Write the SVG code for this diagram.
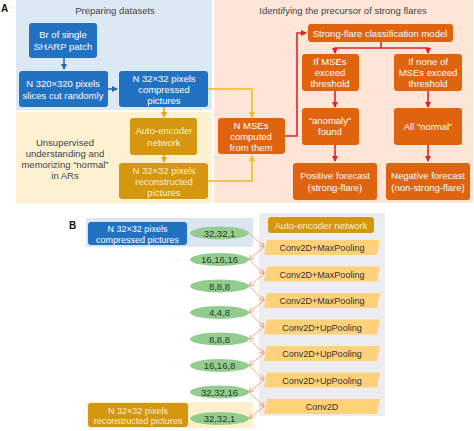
<svg xmlns="http://www.w3.org/2000/svg" width="474" height="431" viewBox="0 0 474 431">
<style>
text{font-family:"Liberation Sans",Arial,sans-serif;}
.t{font-size:9.5px;fill:#fff;text-anchor:middle;}
.ty{font-size:9.5px;fill:#fbf0d0;text-anchor:middle;}
.tb{font-size:9px;fill:#fff;text-anchor:middle;}
.tyb{font-size:9px;fill:#fbf0d0;text-anchor:middle;}
.h{font-size:9.5px;fill:#444;text-anchor:middle;}
.blue{fill:#2272c4;}
.gold{fill:#d4970f;}
.org{fill:#e0640f;}
.lay{fill:#fdd27a;}
.lt{font-size:9px;fill:#333;text-anchor:middle;}
.ell{fill:#93cd8e;}
.et{font-size:9.5px;fill:#2a3a2a;text-anchor:middle;}
.yl{fill:none;stroke:#f5b820;stroke-width:1.6;}
.rl{fill:none;stroke:#e52228;stroke-width:1.6;}
.bl{fill:none;stroke:#2a66b0;stroke-width:1.6;}
.gl{fill:none;stroke:#e7a80c;stroke-width:1.6;}
.ol{fill:none;stroke:#f0a070;stroke-width:0.9;}
.lbl{font-size:10px;font-weight:bold;fill:#111;}
</style>
<defs>
<marker id="ab" markerWidth="6" markerHeight="6" refX="5" refY="3" orient="auto" markerUnits="userSpaceOnUse"><path d="M0,0L6,3L0,6z" fill="#2a66b0"/></marker>
<marker id="ay" markerWidth="6" markerHeight="6" refX="5" refY="3" orient="auto" markerUnits="userSpaceOnUse"><path d="M0,0L6,3L0,6z" fill="#f5b820"/></marker>
<marker id="ag" markerWidth="6" markerHeight="6" refX="5" refY="3" orient="auto" markerUnits="userSpaceOnUse"><path d="M0,0L6,3L0,6z" fill="#e7a80c"/></marker>
<marker id="ar" markerWidth="6" markerHeight="6" refX="5" refY="3" orient="auto" markerUnits="userSpaceOnUse"><path d="M0,0L6,3L0,6z" fill="#e52228"/></marker>
<marker id="ao" markerWidth="5" markerHeight="5" refX="4.5" refY="2.5" orient="auto" markerUnits="userSpaceOnUse"><path d="M0,0L5,2.5L0,5" fill="none" stroke="#f0a070" stroke-width="0.9"/></marker>
</defs>

<!-- backgrounds -->
<g id="backgrounds">
<rect x="16" y="0" width="196" height="110" fill="#dde8f5"/>
<rect x="16" y="112" width="196" height="91" fill="#fdf1d2"/>
<rect x="214" y="0" width="259" height="203" fill="#fde6d8"/>
<rect x="86" y="218" width="167" height="29" fill="#dce6f2"/>
<rect x="87" y="402" width="166" height="26" fill="#fdf0cc"/>
<rect x="259" y="213" width="126" height="203" fill="#ededf1"/>
</g>

<g id="labels">
<text class="lbl" x="1" y="12">A</text>
<text class="lbl" x="69" y="229">B</text>
<text class="h" x="115" y="14">Preparing datasets</text>
<text class="h" x="343" y="14">Identifying the precursor of strong flares</text>
<text class="h" x="65" y="146">Unsupervised</text>
<text class="h" x="65" y="157">understanding and</text>
<text class="h" x="65" y="168">memorizing “normal”</text>
<text class="h" x="65" y="179">in ARs</text>
</g>

<g id="connectors">
<path class="bl" d="M64,58V69" marker-end="url(#ab)"/>
<path class="bl" d="M108,89H117" marker-end="url(#ab)"/>
<path class="gl" d="M164,107V117" marker-end="url(#ag)"/>
<path class="gl" d="M164,155V162" marker-end="url(#ag)"/>
<path class="yl" d="M208,89H252V117" marker-end="url(#ay)"/>
<path class="yl" d="M208,181H252V156" marker-end="url(#ay)"/>
<path class="rl" d="M285,136H297V33H306" marker-end="url(#ar)"/>
<path class="rl" d="M381,42V48H335V53"/>
<path class="rl" d="M335,48V53" marker-end="url(#ar)"/>
<path class="rl" d="M381,48H428V53" marker-end="url(#ar)"/>
<path class="rl" d="M335,91V107" marker-end="url(#ar)"/>
<path class="rl" d="M428,91V107" marker-end="url(#ar)"/>
<path class="rl" d="M335,145V161" marker-end="url(#ar)"/>
<path class="rl" d="M428,145V161" marker-end="url(#ar)"/>
<!-- panel B zig-zag -->
<path class="ol" d="M249,233L264,247" marker-end="url(#ao)"/>
<path class="ol" d="M264,247L249,259.5" marker-end="url(#ao)"/>
<path class="ol" d="M249,259.5L264,274" marker-end="url(#ao)"/>
<path class="ol" d="M264,274L249,286" marker-end="url(#ao)"/>
<path class="ol" d="M249,286L264,300.5" marker-end="url(#ao)"/>
<path class="ol" d="M264,300.5L249,312.5" marker-end="url(#ao)"/>
<path class="ol" d="M249,312.5L264,327" marker-end="url(#ao)"/>
<path class="ol" d="M264,327L249,339" marker-end="url(#ao)"/>
<path class="ol" d="M249,339L264,353.5" marker-end="url(#ao)"/>
<path class="ol" d="M264,353.5L249,365.5" marker-end="url(#ao)"/>
<path class="ol" d="M249,365.5L264,380" marker-end="url(#ao)"/>
<path class="ol" d="M264,380L249,392" marker-end="url(#ao)"/>
<path class="ol" d="M249,392L264,406.5" marker-end="url(#ao)"/>
<path class="ol" d="M264,406.5L249,418.5" marker-end="url(#ao)"/>
</g>

<g id="n-br"><rect class="blue" x="29" y="23" width="68" height="35" rx="3"/><text class="t" x="63" y="38">Br of single</text><text class="t" x="63" y="50">SHARP patch</text></g>
<g id="n-slices"><rect class="blue" x="19" y="71" width="89" height="36" rx="3"/><text class="t" x="63" y="87">N 320×320 pixels</text><text class="t" x="63" y="99">slices cut randomly</text></g>
<g id="n-compressed"><rect class="blue" x="119" y="71" width="89" height="36" rx="3"/><text class="t" x="164" y="82">N 32×32 pixels</text><text class="t" x="164" y="93">compressed</text><text class="t" x="164" y="104">pictures</text></g>
<g id="n-ae"><rect class="gold" x="130" y="118" width="67" height="37" rx="3"/><text class="ty" x="164" y="134">Auto-encoder</text><text class="ty" x="164" y="146">network</text></g>
<g id="n-reconstructed"><rect class="gold" x="119" y="163" width="89" height="36" rx="3"/><text class="ty" x="164" y="174">N 32×32 pixels</text><text class="ty" x="164" y="185">reconstructed</text><text class="ty" x="164" y="196">pictures</text></g>
<g id="n-mse"><rect class="org" x="218" y="118" width="67" height="36" rx="3"/><text class="t" x="251" y="129">N MSEs</text><text class="t" x="251" y="140">computed</text><text class="t" x="251" y="151">from them</text></g>
<g id="n-model"><rect class="org" x="308" y="24" width="145" height="18" rx="3"/><text class="t" x="380" y="36.5">Strong-flare classification model</text></g>
<g id="n-exceed"><rect class="org" x="302" y="54" width="57" height="37" rx="3"/><text class="t" x="330" y="65">If MSEs</text><text class="t" x="330" y="76">exceed</text><text class="t" x="330" y="87">threshold</text></g>
<g id="n-none"><rect class="org" x="394" y="54" width="68" height="37" rx="3"/><text class="t" x="428" y="65">If none of</text><text class="t" x="428" y="76">MSEs exceed</text><text class="t" x="428" y="87">threshold</text></g>
<g id="n-anomaly"><rect class="org" x="302" y="108" width="57" height="37" rx="3"/><text class="t" x="330" y="124">“anomaly”</text><text class="t" x="330" y="135">found</text></g>
<g id="n-normal"><rect class="org" x="394" y="108" width="68" height="37" rx="3"/><text class="t" x="428" y="130">All “normal”</text></g>
<g id="n-positive"><rect class="org" x="293" y="163" width="84" height="37" rx="3"/><text class="t" x="335" y="179">Positive forecast</text><text class="t" x="335" y="191">(strong-flare)</text></g>
<g id="n-negative"><rect class="org" x="386" y="163" width="84" height="37" rx="3"/><text class="t" x="428" y="179">Negative forecast</text><text class="t" x="428" y="191">(non-strong-flare)</text></g>

<g id="b-compressed"><rect class="blue" x="88" y="222" width="99" height="23" rx="3"/><text class="tb" x="137.5" y="232">N 32×32 pixels</text><text class="tb" x="137.5" y="242.5">compressed pictures</text></g>
<g id="b-reconstructed"><rect class="gold" x="88" y="403" width="100" height="24" rx="3"/><text class="tyb" x="138" y="413.5">N 32×32 pixels</text><text class="tyb" x="138" y="424">reconstructed pictures</text></g>
<g id="b-ae-label"><rect class="gold" x="268" y="217" width="106" height="16" rx="3"/><text class="ty" x="321" y="228.5">Auto-encoder network</text></g>

<g id="b-e1"><ellipse class="ell" cx="219.5" cy="233" rx="29.5" ry="6.5"/><text class="et" x="219.5" y="236.5">32,32,1</text></g>
<g id="b-e2"><ellipse class="ell" cx="219.5" cy="259.5" rx="29.5" ry="6.5"/><text class="et" x="219.5" y="263">16,16,16</text></g>
<g id="b-e3"><ellipse class="ell" cx="219.5" cy="286" rx="29.5" ry="6.5"/><text class="et" x="219.5" y="289.5">8,8,8</text></g>
<g id="b-e4"><ellipse class="ell" cx="219.5" cy="312.5" rx="29.5" ry="6.5"/><text class="et" x="219.5" y="316">4,4,8</text></g>
<g id="b-e5"><ellipse class="ell" cx="219.5" cy="339" rx="29.5" ry="6.5"/><text class="et" x="219.5" y="342.5">8,8,8</text></g>
<g id="b-e6"><ellipse class="ell" cx="219.5" cy="365.5" rx="29.5" ry="6.5"/><text class="et" x="219.5" y="369">16,16,8</text></g>
<g id="b-e7"><ellipse class="ell" cx="219.5" cy="392" rx="29.5" ry="6.5"/><text class="et" x="219.5" y="395.5">32,32,16</text></g>
<g id="b-e8"><ellipse class="ell" cx="219.5" cy="418.5" rx="29.5" ry="6.5"/><text class="et" x="219.5" y="422">32,32,1</text></g>

<g id="b-l1"><polygon class="lay" points="267,240 380,240 377,255 264,255"/><text class="lt" x="322" y="251">Conv2D+MaxPooling</text></g>
<g id="b-l2"><polygon class="lay" points="267,266.5 380,266.5 377,281.5 264,281.5"/><text class="lt" x="322" y="277.5">Conv2D+MaxPooling</text></g>
<g id="b-l3"><polygon class="lay" points="267,293 380,293 377,308 264,308"/><text class="lt" x="322" y="304">Conv2D+MaxPooling</text></g>
<g id="b-l4"><polygon class="lay" points="267,319.5 380,319.5 377,334.5 264,334.5"/><text class="lt" x="322" y="330.5">Conv2D+UpPooling</text></g>
<g id="b-l5"><polygon class="lay" points="267,346 380,346 377,361 264,361"/><text class="lt" x="322" y="357">Conv2D+UpPooling</text></g>
<g id="b-l6"><polygon class="lay" points="267,372.5 380,372.5 377,387.5 264,387.5"/><text class="lt" x="322" y="383.5">Conv2D+UpPooling</text></g>
<g id="b-l7"><polygon class="lay" points="267,399 380,399 377,414 264,414"/><text class="lt" x="322" y="410">Conv2D</text></g>
</svg>
